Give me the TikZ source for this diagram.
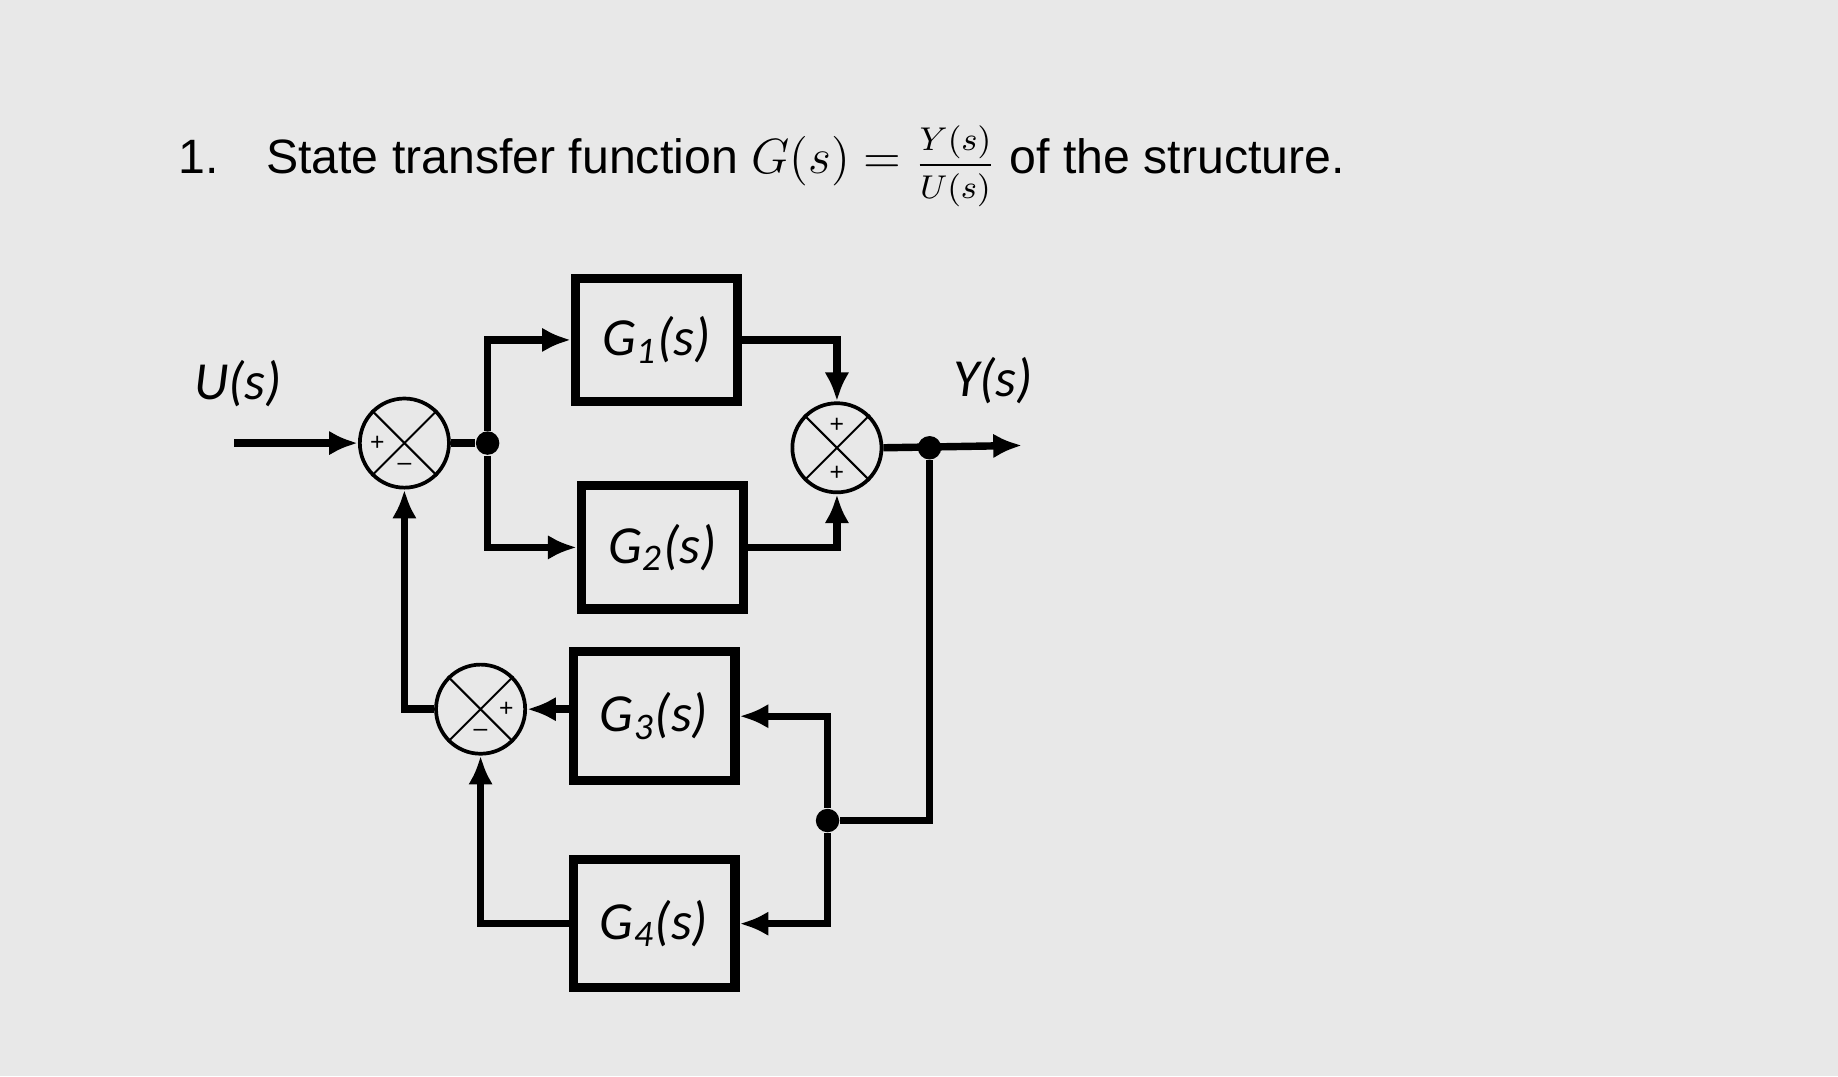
\documentclass[tikz,border=0pt]{standalone}
\usepackage{fontspec}
\setmainfont{Liberation Sans}
\newfontfamily\carl{Carlito}
\usepackage{amsmath}
\usetikzlibrary{arrows.meta}
\begin{document}
\begin{tikzpicture}[x=0.01cm,y=-0.01cm,
  blk/.style={draw,line width=2.2pt,minimum width=1.38cm,minimum height=1.05cm,inner sep=0,font=\carl\itshape\fontsize{13}{13}\selectfont},
  sumc/.style={draw,circle,line width=0.9pt,minimum size=0.76cm,inner sep=0},
  ln/.style={line width=1.8pt},
  ar/.style={ln,-{Latex[length=7pt,width=6pt]}},
  dotc/.style={circle,fill,inner sep=0,minimum size=0.2cm},
  sg/.style={font=\fontsize{6}{6}\selectfont,inner sep=0}]
\fill[gray!18] (0,0) rectangle (1568,918);
\useasboundingbox (0,0) rectangle (1568,918);
\node[anchor=base west,font=\fontsize{11.7}{14}\selectfont,inner sep=0] (title) at (152,148)
 {1.\hspace{0.6em} State transfer function $G(s)=$ {\fontsize{8.5}{9}\selectfont$\dfrac{Y(s)}{U(s)}$} of the structure.};
\node[blk] (g1) at (560,290) {G\textsubscript{1}(s)};
\node[blk] (g2) at (565,467) {G\textsubscript{2}(s)};
\node[blk,minimum height=1.1cm] (g3) at (558,611) {G\textsubscript{3}(s)};
\node[blk,minimum height=1.09cm] (g4) at (558,788) {G\textsubscript{4}(s)};
\node[sumc] (s1) at (345,378) {};
\node[sumc] (s2) at (714,382) {};
\node[sumc] (s3) at (410,605) {};
\foreach \s in {s1,s2,s3}{
 \draw[line width=0.5pt] (\s.north west)--(\s.south east) (\s.north east)--(\s.south west);}
\node[sg] (p1) at (322,378) {+};
\node[sg] (m1) at (345,398) {--};
\node[sg] (p2) at (714,363) {+};
\node[sg] (p2b) at (714,404) {+};
\node[sg] (p3) at (432,605) {+};
\node[sg] (m3) at (410,625) {--};
\coordinate (uin) at (200,378);
\coordinate (yout) at (872,380);
\node[dotc] (d1) at (416,378) {};
\node[dotc] (d2) at (793,382) {};
\node[dotc] (d3) at (706,700) {};
\node[font=\carl\itshape\fontsize{13}{13}\selectfont] (ul) at (203,327) {U(s)};
\node[font=\carl\itshape\fontsize{13}{13}\selectfont] (yl) at (847,325) {Y(s)};
\draw[ar] (uin) -- (s1.west);
\draw[ln] (s1.east) -- (d1);
\draw[ar] (d1) |- (g1.west);
\draw[ar] (d1) |- (g2.west);
\draw[ar] (g1.east) -| (s2.north);
\draw[ar] (g2.east) -| (s2.south);
\draw[ar] (s2.east) -- (yout);
\draw[ln] (d2) |- (d3);
\draw[ar] (d3) |- (g3.east);
\draw[ar] (d3) |- (g4.east);
\draw[ar] (g3.west |- s3) -- (s3.east);
\draw[ar] (g4.west) -| (s3.south);
\draw[ar] (s3.west) -| (s1.south);
\end{tikzpicture}
\end{document}
